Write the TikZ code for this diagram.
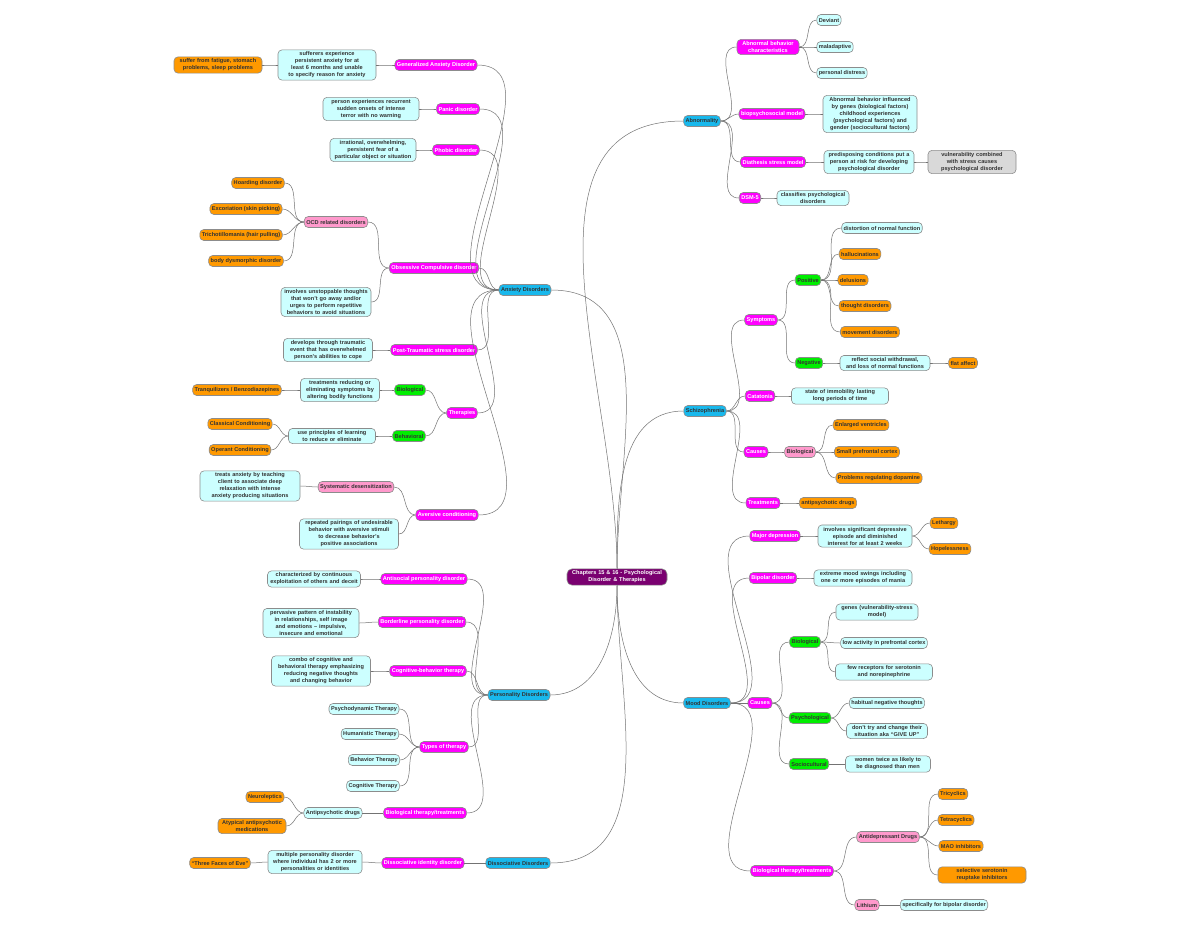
\documentclass[tikz,border=0pt]{standalone}
\usepackage{fontspec}
\setmainfont{Liberation Sans}
\definecolor{cMag}{HTML}{FF00FF}
\definecolor{cBlu}{HTML}{18B8EC}
\definecolor{cCyn}{HTML}{CCFFFF}
\definecolor{cOrg}{HTML}{FF9900}
\definecolor{cGrn}{HTML}{00EE00}
\definecolor{cLpk}{HTML}{FF99CC}
\definecolor{cGry}{HTML}{D9D9D9}
\definecolor{cPur}{HTML}{7A0070}
\hyphenpenalty=10000
\exhyphenpenalty=10000
\begin{document}
\begin{tikzpicture}[x=1pt,y=-1pt,
 base/.style={draw=black!45,rounded corners=4pt,font=\fontsize{5.6}{7}\selectfont\bfseries,inner sep=2pt,minimum height=11pt,align=center,line width=0.6pt},
 mag/.style={base,fill=cMag,text=white},
 blu/.style={base,fill=cBlu,text=black!80},
 cyn/.style={base,fill=cCyn,text=black!80},
 org/.style={base,fill=cOrg,text=black!80},
 grn/.style={base,fill=cGrn,text=black!80},
 lpk/.style={base,fill=cLpk,text=black!80},
 gry/.style={base,fill=cGry,text=black!80},
 pur/.style={base,fill=cPur,text=white,rounded corners=5pt},
 con/.style={draw=black!55,line width=0.5pt}]
\newcommand\conR[2]{\draw[con] (#1.east) to[out=0,in=180] (#2.west);}
\newcommand\conL[2]{\draw[con] (#1.west) to[out=180,in=0] (#2.east);}
\fill[white] (0,0) rectangle (1200,927);
% center
\node[pur,text width=96pt] (ctr) at (617,577) {Chapters 15 \& 16 - Psychological Disorder \& Therapies};
% ---- right: Abnormality
\node[blu] (abn) at (702,121) {Abnormality};
\node[mag,text width=58pt] (abc) at (768,47) {Abnormal behavior characteristics};
\node[cyn] (dev) at (829,20) {Deviant};
\node[cyn] (mal) at (835,47) {maladaptive};
\node[cyn] (dis) at (842,73) {personal distress};
\node[mag] (bps) at (772,114) {biopsychosocial model};
\node[cyn,text width=90pt] (bpsd) at (870,114) {Abnormal behavior influenced by genes (biological factors) childhood experiences (psychological factors) and gender (sociocultural factors)};
\node[mag] (dia) at (773,162) {Diathesis stress model};
\node[cyn,text width=86pt] (diad) at (869,162) {predisposing conditions put a person at risk for developing psychological disorder};
\node[gry,text width=84pt] (diag) at (972,162) {vulnerability combined with stress causes psychological disorder};
\node[mag] (dsm) at (750,198) {DSM-5};
\node[cyn,text width=68pt] (dsmd) at (813,198) {classifies psychological disorders};
% ---- Schizophrenia
\node[blu] (sch) at (705,411) {Schizophrenia};
\node[mag] (sym) at (761,320) {Symptoms};
\node[grn] (pos) at (808,280) {Positive};
\node[cyn] (p1) at (882,228) {distortion of normal function};
\node[org] (p2) at (860,254) {hallucinations};
\node[org] (p3) at (853,280) {delusions};
\node[org] (p4) at (865,306) {thought disorders};
\node[org] (p5) at (870,332) {movement disorders};
\node[grn] (neg) at (809,363) {Negative};
\node[cyn,text width=86pt] (negd) at (885,363) {reflect social withdrawal, and loss of normal functions};
\node[org] (flat) at (963,363) {flat affect};
\node[mag] (cat) at (760,396) {Catatonia};
\node[cyn,text width=93pt] (catd) at (840,396) {state of immobility lasting long periods of time};
\node[mag] (scau) at (756,452) {Causes};
\node[lpk] (sbio) at (800,452) {Biological};
\node[org] (s1) at (861,425) {Enlarged ventricles};
\node[org] (s2) at (867,452) {Small prefrontal cortex};
\node[org] (s3) at (879,478) {Problems regulating dopamine};
\node[mag] (str) at (763,503) {Treatments};
\node[org] (apd) at (828,503) {antipsychotic drugs};
% ---- Mood
\node[blu] (mood) at (707,703) {Mood Disorders};
\node[mag] (maj) at (775,536) {Major depression};
\node[cyn,text width=90pt] (majd) at (865,536) {involves significant depressive episode and diminished interest for at least 2 weeks};
\node[org] (leth) at (944,523) {Lethargy};
\node[org] (hope) at (950,549) {Hopelessness};
\node[mag] (bip) at (773,578) {Bipolar disorder};
\node[cyn,text width=94pt] (bipd) at (863,578) {extreme mood swings including one or more episodes of mania};
\node[mag] (mcau) at (760,703) {Causes};
\node[grn] (mb) at (805,642) {Biological};
\node[cyn,text width=78pt] (mb1) at (877,612) {genes (vulnerability-stress model)};
\node[cyn] (mb2) at (884,643) {low activity in prefrontal cortex};
\node[cyn,text width=93pt] (mb3) at (884,672) {few receptors for serotonin and norepinephrine};
\node[grn] (mp) at (810,718) {Psychological};
\node[cyn] (mp1) at (887,703) {habitual negative thoughts};
\node[cyn,text width=77pt] (mp2) at (887,731) {don't try and change their situation aka ``GIVE UP''};
\node[grn] (ms) at (809,764) {Sociocultural};
\node[cyn,text width=81pt] (ms1) at (888,764) {women twice as likely to be diagnosed than men};
\node[mag] (mbt) at (792,871) {Biological therapy/treatments};
\node[lpk] (ad) at (888,837) {Antidepressant Drugs};
\node[org] (a1) at (953,794) {Tricyclics};
\node[org] (a2) at (956,820) {Tetracyclics};
\node[org] (a3) at (961,846) {MAO inhibitors};
\node[org,text width=84pt] (a4) at (982,875) {selective serotonin reuptake inhibitors};
\node[lpk] (lit) at (867,905) {Lithium};
\node[cyn] (litd) at (944,905) {specifically for bipolar disorder};
% ---- left: Anxiety
\node[blu] (anx) at (525,290) {Anxiety Disorders};
\node[mag] (gad) at (436,65) {Generalized Anxiety Disorder};
\node[cyn,text width=94pt] (gadd) at (327,65) {sufferers experience persistent anxiety for at least 6 months and unable to specify reason for anxiety};
\node[org,text width=84pt] (gado) at (218,65) {suffer from fatigue, stomach problems, sleep problems};
\node[mag] (pan) at (458,109) {Panic disorder};
\node[cyn,text width=92pt] (pand) at (371,109) {person experiences recurrent sudden onsets of intense terror with no warning};
\node[mag] (pho) at (456,150) {Phobic disorder};
\node[cyn,text width=82pt] (phod) at (373,150) {irrational, overwhelming, persistent fear of a particular object or situation};
\node[mag] (ocd) at (434,268) {Obsessive Compulsive disorder};
\node[lpk] (ocr) at (336,222) {OCD related disorders};
\node[org] (o1) at (258,183) {Hoarding disorder};
\node[org] (o2) at (246,209) {Excoriation (skin picking)};
\node[org] (o3) at (241,235) {Trichotillomania (hair pulling)};
\node[org] (o4) at (246,261) {body dysmorphic disorder};
\node[cyn,text width=86pt] (ocdd) at (326,302) {involves unstoppable thoughts that won't go away and/or urges to perform repetitive behaviors to avoid situations};
\node[mag] (ptsd) at (434,350) {Post-Traumatic stress disorder};
\node[cyn,text width=85pt] (ptsdd) at (328,350) {develops through traumatic event that has overwhelmed person's abilities to cope};
\node[mag] (ther) at (462,413) {Therapies};
\node[grn] (tb) at (410,390) {Biological};
\node[cyn,text width=75pt] (tbd) at (340,390) {treatments reducing or eliminating symptoms by altering bodily functions};
\node[org] (tran) at (237,390) {Tranquilizers / Benzodiazepines};
\node[grn] (tbe) at (409,436) {Behavioral};
\node[cyn,text width=83pt] (tbed) at (332,436) {use principles of learning to reduce or eliminate};
\node[org] (cla) at (240,424) {Classical Conditioning};
\node[org] (ope) at (240,450) {Operant Conditioning};
\node[mag] (ave) at (447,515) {Aversive conditioning};
\node[lpk] (sys) at (356,487) {Systematic desensitization};
\node[cyn,text width=96pt] (sysd) at (250,486) {treats anxiety by teaching client to associate deep relaxation with intense anxiety producing situations};
\node[cyn,text width=95pt] (aved) at (349,534) {repeated pairings of undesirable behavior with aversive stimuli to decrease behavior's positive associations};
% ---- Personality
\node[blu] (per) at (519,695) {Personality Disorders};
\node[mag] (ant) at (424,579) {Antisocial personality disorder};
\node[cyn,text width=89pt] (antd) at (314,579) {characterized by continuous exploitation of others and deceit};
\node[mag] (bor) at (422,622) {Borderline personality disorder};
\node[cyn,text width=92pt] (bord) at (311,623) {pervasive pattern of instability in relationships, self image and emotions -- impulsive, insecure and emotional};
\node[mag] (cbt) at (428,671) {Cognitive-behavior therapy};
\node[cyn,text width=95pt] (cbtd) at (321,671) {combo of cognitive and behavioral therapy emphasizing reducing negative thoughts and changing behavior};
\node[mag] (typ) at (444,747) {Types of therapy};
\node[cyn] (t1) at (364,709) {Psychodynamic Therapy};
\node[cyn] (t2) at (370,734) {Humanistic Therapy};
\node[cyn] (t3) at (374,760) {Behavior Therapy};
\node[cyn] (t4) at (373,786) {Cognitive Therapy};
\node[mag] (btt) at (425,813) {Biological therapy/treatments};
\node[cyn] (anp) at (333,813) {Antipsychotic drugs};
\node[org] (neu) at (265,797) {Neuroleptics};
\node[org,text width=64pt] (aty) at (252,826) {Atypical antipsychotic medications};
\node[blu] (dss) at (518,863) {Dissociative Disorders};
\node[mag] (did) at (423,863) {Dissociative identity disorder};
\node[cyn,text width=90pt] (didd) at (315,862) {multiple personality disorder where individual has 2 or more personalities or identities};
\node[org] (eve) at (220,863) {``Three Faces of Eve''};
% ---- connectors
\draw[con] (ctr.north) to[out=90,in=180] (abn.west);
\draw[con] (ctr.north) to[out=90,in=180] (sch.west);
\draw[con] (ctr.south) to[out=-90,in=180] (mood.west);
\draw[con] (ctr.north) to[out=90,in=0] (anx.east);
\draw[con] (ctr.south) to[out=-90,in=0] (per.east);
\draw[con] (ctr.south) to[out=-90,in=0] (dss.east);
\foreach \c in {abc,bps,dia,dsm} {\conR{abn}{\c}}
\foreach \c in {dev,mal,dis} {\conR{abc}{\c}}
\conR{bps}{bpsd} \conR{dia}{diad} \conR{diad}{diag} \conR{dsm}{dsmd}
\foreach \c in {sym,cat,scau,str} {\conR{sch}{\c}}
\conR{sym}{pos} \conR{sym}{neg}
\foreach \c in {p1,p2,p3,p4,p5} {\conR{pos}{\c}}
\conR{neg}{negd} \conR{negd}{flat} \conR{cat}{catd} \conR{scau}{sbio}
\foreach \c in {s1,s2,s3} {\conR{sbio}{\c}}
\conR{str}{apd}
\foreach \c in {maj,bip,mcau,mbt} {\conR{mood}{\c}}
\conR{maj}{majd} \conR{majd}{leth} \conR{majd}{hope} \conR{bip}{bipd}
\foreach \c in {mb,mp,ms} {\conR{mcau}{\c}}
\foreach \c in {mb1,mb2,mb3} {\conR{mb}{\c}}
\conR{mp}{mp1} \conR{mp}{mp2} \conR{ms}{ms1}
\conR{mbt}{ad} \conR{mbt}{lit}
\foreach \c in {a1,a2,a3,a4} {\conR{ad}{\c}}
\conR{lit}{litd}
\foreach \c in {gad,pan,pho,ocd,ptsd,ther,ave} {\conL{anx}{\c}}
\conL{gad}{gadd} \conL{gadd}{gado} \conL{pan}{pand} \conL{pho}{phod}
\conL{ocd}{ocr} \conL{ocd}{ocdd}
\foreach \c in {o1,o2,o3,o4} {\conL{ocr}{\c}}
\conL{ptsd}{ptsdd} \conL{ther}{tb} \conL{ther}{tbe} \conL{tb}{tbd} \conL{tbd}{tran}
\conL{tbe}{tbed} \conL{tbed}{cla} \conL{tbed}{ope}
\conL{ave}{sys} \conL{sys}{sysd} \conL{ave}{aved}
\foreach \c in {ant,bor,cbt,typ,btt} {\conL{per}{\c}}
\conL{ant}{antd} \conL{bor}{bord} \conL{cbt}{cbtd}
\foreach \c in {t1,t2,t3,t4} {\conL{typ}{\c}}
\conL{btt}{anp} \conL{anp}{neu} \conL{anp}{aty}
\conL{dss}{did} \conL{did}{didd} \conL{didd}{eve}
\end{tikzpicture}
\end{document}
